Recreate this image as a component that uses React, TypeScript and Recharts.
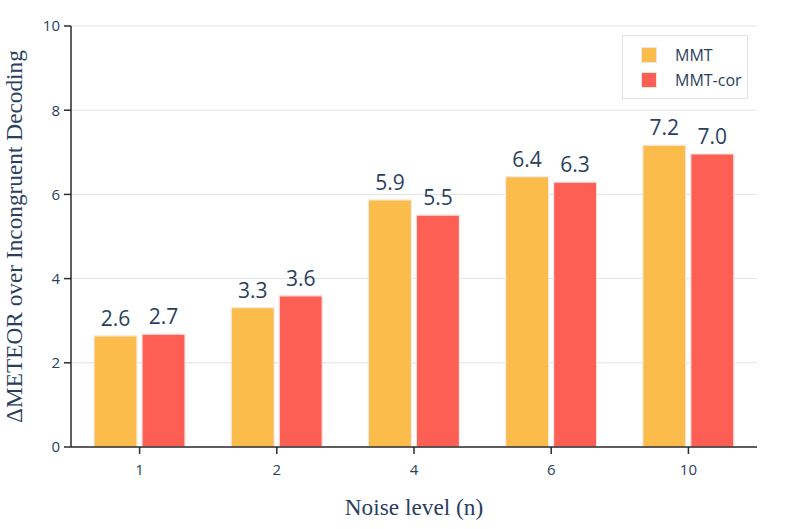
import React from 'react';
import { BarChart, Bar, XAxis, YAxis, CartesianGrid, LabelList, Legend } from 'recharts';

const categories = ['1', '2', '4', '6', '10'];
const mmtValues = [2.64, 3.31, 5.87, 6.42, 7.17];
const mmtCorValues = [2.68, 3.59, 5.51, 6.29, 6.96];
const yTicks = [0, 2, 4, 6, 8, 10];
const seriesNames = ['MMT', 'MMT-cor'];
const seriesColors = ['#fcbc4b', '#fe5f55'];
const xTitle = 'Noise level (n)';
const yTitle = 'ΔMETEOR over Incongruent Decoding';

const data = categories.map((c, i) => ({ cat: c, mmt: mmtValues[i], mmtCor: mmtCorValues[i] }));

const TEXT = '#2a3f5f';
const AXIS = '#2b2b2b';
const SANS = '"Open Sans", Verdana, Arial, sans-serif';
const SERIF = '"Liberation Serif", "Times New Roman", serif';

const YTitle = (props: any) => {
  const vb = props.viewBox || { x: 0, y: 26, width: 60, height: 421 };
  const cx = 14;
  const cy = vb.y + vb.height / 2;
  return (
    <text
      x={cx}
      y={cy}
      transform={`rotate(-90, ${cx}, ${cy})`}
      textAnchor="middle"
      dominantBaseline="central"
      fill={TEXT}
      fontSize={23.3}
      fontFamily={SERIF}
    >
      {yTitle}
    </text>
  );
};

const XTitle = (props: any) => {
  const vb = props.viewBox || { x: 71, y: 447, width: 686, height: 82 };
  return (
    <text x={vb.x + vb.width / 2} y={515} textAnchor="middle" fill={TEXT} fontSize={23.3} fontFamily={SERIF}>
      {xTitle}
    </text>
  );
};

const renderLegend = () => (
  <div
    style={{
      width: 126,
      height: 64,
      boxSizing: 'border-box',
      border: '1px solid #e2e2e2',
      background: '#fff',
      position: 'relative',
      fontFamily: SANS,
      fontSize: 16,
      color: TEXT,
    }}
  >
    {seriesNames.map((name, i) => (
      <div key={name}>
        <div
          style={{
            position: 'absolute',
            left: 18,
            top: 11 + i * 25,
            width: 16,
            height: 16,
            boxSizing: 'border-box',
            background: seriesColors[i],
            border: '1px solid #f0e6e0',
          }}
        />
        <div
          style={{
            position: 'absolute',
            left: 52,
            top: 8 + i * 25,
            lineHeight: '22px',
            whiteSpace: 'nowrap',
          }}
        >
          {name}
        </div>
      </div>
    ))}
  </div>
);

const fmt = (v: any) => Number(v).toFixed(1);

export default function App() {
  return (
    <div style={{ position: 'absolute', left: 0, top: 0, width: 789, height: 529, background: '#fff' }}>
      <BarChart
        width={789}
        height={529}
        data={data}
        margin={{ top: 26, right: 32, bottom: 0, left: 11 }}
        barSize={43}
        barGap={5}
      >
        <CartesianGrid vertical={false} stroke="#e2e2e2" strokeWidth={1} />
        <XAxis
          dataKey="cat"
          height={82}
          tickSize={7}
          tickMargin={10}
          tick={{ fill: TEXT, fontSize: 15, fontFamily: SANS }}
          tickLine={{ stroke: AXIS, strokeWidth: 1.5 }}
          axisLine={{ stroke: AXIS, strokeWidth: 1.5 }}
          label={<XTitle />}
        />
        <XAxis
          xAxisId="top"
          dataKey="cat"
          orientation="top"
          height={0}
          tick={false}
          tickLine={false}
          axisLine={{ stroke: AXIS, strokeWidth: 1.5 }}
        />
        <YAxis
          domain={[0, 10]}
          ticks={yTicks}
          width={60}
          tickSize={7}
          tickMargin={4}
          tick={{ fill: TEXT, fontSize: 15, fontFamily: SANS }}
          tickLine={{ stroke: AXIS, strokeWidth: 1.5 }}
          axisLine={{ stroke: AXIS, strokeWidth: 1.5 }}
          label={<YTitle />}
        />
        <YAxis
          yAxisId="right"
          orientation="right"
          domain={[0, 10]}
          width={0}
          tick={false}
          tickLine={false}
          axisLine={{ stroke: AXIS, strokeWidth: 1.5 }}
        />
        <Legend
          layout="vertical"
          align="center"
          verticalAlign="middle"
          content={renderLegend}
          wrapperStyle={{ position: 'absolute', left: 622, top: 35, width: 126, height: 64 }}
        />
        <Bar dataKey="mmt" name={seriesNames[0]} fill={seriesColors[0]} stroke="#f3ece4" strokeWidth={1.2} isAnimationActive={false}>
          <LabelList dataKey="mmt" position="top" offset={10} formatter={fmt} fill={TEXT} fontSize={21} fontFamily={SANS} />
        </Bar>
        <Bar dataKey="mmtCor" name={seriesNames[1]} fill={seriesColors[1]} stroke="#f3e4e2" strokeWidth={1.2} isAnimationActive={false}>
          <LabelList dataKey="mmtCor" position="top" offset={10} formatter={fmt} fill={TEXT} fontSize={21} fontFamily={SANS} />
        </Bar>
      </BarChart>
    </div>
  );
}
